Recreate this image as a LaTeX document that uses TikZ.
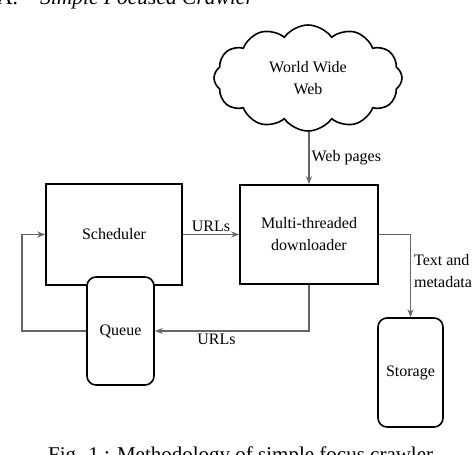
\documentclass[tikz,border=0pt]{standalone}
\usepackage{fontspec}
\setmainfont{Liberation Serif}
\usetikzlibrary{shapes.symbols,arrows.meta}
\begin{document}
\begin{tikzpicture}[
    x=1pt,y=-1pt,
    font=\fontsize{16}{22}\selectfont,
    box/.style={rectangle,draw=black,line width=1.6pt,fill=white,align=center},
    pill/.style={rectangle,rounded corners=9pt,draw=black,line width=1.6pt,fill=white},
    cloudy/.style={cloud,cloud puffs=12,cloud puff arc=110,aspect=1.8,draw=black,line width=1.6pt,align=center,minimum width=188,minimum height=106},
    arr/.style={-{Stealth[length=8pt,width=6pt,fill=black!85]},draw=black!60,line width=1.3pt},
    lbl/.style={inner sep=2pt}
]
    \useasboundingbox (0,0) rectangle (474,455);
    \clip (0,0) rectangle (474,455);

    \node[anchor=base west,inner sep=0pt,font=\fontsize{21.5}{24}\selectfont] (title) at (-3,5) {A.\hspace{22pt}\textit{Simple Focused Crawler}};

    \node[cloudy] (web) at (308,78) {World Wide\\Web};
    \node[box,minimum width=138,minimum height=99] (dl) at (309,234.5) {Multi-threaded\\downloader};
    \node[box,minimum width=136,minimum height=101] (sched) at (114,234.5) {Scheduler};
    \node[pill,minimum width=67,minimum height=108] (queue) at (120.5,331) {Queue};
    \node[pill,minimum width=65,minimum height=109] (store) at (410.5,372.5) {Storage};
    \coordinate (back) at (22,331);

    \draw[arr] (web.south -| dl.north) -- node[lbl,right] {Web pages} (dl.north);
    \draw[arr] (sched.east) -- node[lbl,above] {URLs} (dl.west);
    \draw[arr] (dl.south) |- node[lbl,below,pos=0.8] {URLs} (queue.east);
    \draw[arr] (queue.west) -- (back) |- (sched.west);
    \draw[arr] (dl.east) -| node[lbl,right,align=left,pos=0.72,xshift=1pt] {Text and\\metadata} (store.north);

    \node[anchor=base west,inner sep=0pt,font=\fontsize{21}{24}\selectfont] (caption) at (48,461) {Fig. 1 : Methodology of simple focus crawler};
\end{tikzpicture}
\end{document}
